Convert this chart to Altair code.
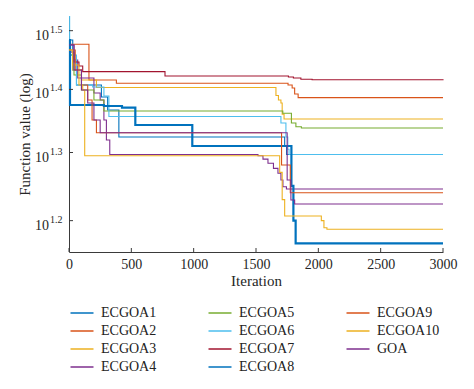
import altair as alt
import pandas as pd

# ---- data (iteration, exponent of function value, i.e. log10 f) ----
series_names = ["ECGOA1", "ECGOA2", "ECGOA3", "ECGOA4", "ECGOA5", "ECGOA6",
                "ECGOA7", "ECGOA8", "ECGOA9", "ECGOA10", "GOA"]

ecgoa1_it = [0, 30, 60, 260, 310, 400, 1730, 1745, 3000]
ecgoa1_val = [1.4837, 1.4323, 1.4073, 1.3876, 1.3666, 1.3239, 1.3100, 1.2970, 1.2970]

ecgoa2_it = [0, 160, 380, 1757, 1790, 1810, 1838, 3000]
ecgoa2_val = [1.4762, 1.4156, 1.4101, 1.4073, 1.4024, 1.3925, 1.3865, 1.3865]

ecgoa3_it = [0, 30, 100, 220, 1660, 1680, 1700, 1710, 1725, 3000]
ecgoa3_val = [1.4578, 1.4323, 1.4156, 1.4032, 1.3900, 1.3827, 1.3778, 1.3600, 1.3522, 1.3522]

ecgoa4_it = [0, 40, 70, 200, 250, 280, 300, 327, 1516, 1556, 1596, 1640, 1676, 1700, 1716, 1744, 3000]
ecgoa4_val = [1.4750, 1.4492, 1.4189, 1.3941, 1.3827, 1.3506, 1.3192, 1.2970, 1.2950, 1.2900,
              1.2836, 1.2760, 1.2686, 1.2587, 1.2488, 1.2454, 1.2454]

ecgoa5_it = [0, 40, 100, 200, 280, 1715, 1784, 1820, 1864, 3000]
ecgoa5_val = [1.4578, 1.4239, 1.3991, 1.3827, 1.3650, 1.3613, 1.3458, 1.3400, 1.3380, 1.3380]

ecgoa6_it = [0, 5, 60, 190, 280, 320, 1700, 1740, 1755, 1765, 3000]
ecgoa6_val = [1.5250, 1.4578, 1.4073, 1.4040, 1.3892, 1.3562, 1.3458, 1.3239, 1.3050, 1.2970, 1.2970]

ecgoa7_it = [0, 40, 80, 110, 770, 1760, 1800, 1860, 1950, 3000]
ecgoa7_val = [1.4629, 1.4458, 1.4391, 1.4295, 1.4223, 1.4205, 1.4189, 1.4168, 1.4160, 1.4151]

ecgoa8_it = [0, 8, 280, 425, 532, 989, 1784, 1800, 1818, 3000]
ecgoa8_val = [1.4837, 1.3746, 1.3730, 1.3703, 1.3427, 1.3100, 1.2500, 1.2000, 1.1685, 1.1685]

ecgoa9_it = [0, 50, 100, 150, 185, 220, 1705, 1775, 3000]
ecgoa9_val = [1.4664, 1.4323, 1.4073, 1.3827, 1.3506, 1.3306, 1.2811, 1.2400, 1.2400]

ecgoa10_it = [0, 30, 80, 110, 126, 1690, 1710, 1730, 2024, 2045, 2069, 3000]
ecgoa10_val = [1.4664, 1.4408, 1.4073, 1.3991, 1.2951, 1.2700, 1.2300, 1.2066, 1.2000, 1.1900,
               1.1879, 1.1879]

goa_it = [0, 40, 100, 150, 200, 250, 1750, 1780, 1810, 3000]
goa_val = [1.4750, 1.4323, 1.3991, 1.3778, 1.3506, 1.3306, 1.2587, 1.2294, 1.2237, 1.2237]

x_ticks = [0, 500, 1000, 1500, 2000, 2500, 3000]
y_ticks = [1.2, 1.3, 1.4, 1.5]

its = [ecgoa1_it, ecgoa2_it, ecgoa3_it, ecgoa4_it, ecgoa5_it, ecgoa6_it,
       ecgoa7_it, ecgoa8_it, ecgoa9_it, ecgoa10_it, goa_it]
vals = [ecgoa1_val, ecgoa2_val, ecgoa3_val, ecgoa4_val, ecgoa5_val, ecgoa6_val,
        ecgoa7_val, ecgoa8_val, ecgoa9_val, ecgoa10_val, goa_val]

rows = []
for name, it, v in zip(series_names, its, vals):
    for a, b in zip(it, v):
        rows.append({"series": name, "iteration": a, "value": b})
df = pd.DataFrame(rows)

# ---- styling ----
palette = ["#0072BD", "#D95319", "#EDB120", "#7E2F8E", "#77AC30", "#4DBEEE",
           "#A2142F", "#0072BD", "#D95319", "#EDB120", "#7E2F8E"]
FONT = "Liberation Serif"
AX = "#3a3a3a"
TXT = "#262626"

xscale = alt.Scale(domain=[0, 3000], nice=False, zero=False)
yscale = alt.Scale(type="log", domain=[1.1566, 1.5261], nice=False, zero=False)
xaxis = alt.Axis(values=x_ticks, format="d", title="Iteration", ticks=False, grid=False,
                 labelPadding=5, labelFlush=False, titleY=21, titleBaseline="top",
                 labelFont=FONT, labelFontSize=14, labelColor=TXT,
                 titleFont=FONT, titleFontSize=15, titleFontWeight="normal", titleColor=TXT,
                 domainColor=AX, domainWidth=1)
yaxis = alt.Axis(values=y_ticks, labels=False, ticks=False, grid=False,
                 title="Function value (log)", titleX=-45, titleBaseline="middle",
                 titleFont=FONT, titleFontSize=15, titleFontWeight="normal", titleColor=TXT,
                 domainColor=AX, domainWidth=1)

xenc = alt.X("iteration:Q", scale=xscale, axis=xaxis)
yenc = alt.Y("value:Q", scale=yscale, axis=yaxis)

lines = alt.Chart(df).mark_line(interpolate="step-after").transform_calculate(
    w="datum.series == 'ECGOA8' ? 2.2 : 1.1"
).encode(
    x=xenc,
    y=yenc,
    color=alt.Color("series:N",
                    scale=alt.Scale(domain=series_names, range=palette),
                    legend=alt.Legend(title=None, orient="none", legendX=5, legendY=289,
                                      columns=3, symbolType="M-1.643,0L1.643,0", symbolSize=196,
                                      symbolStrokeWidth=1.5, labelFont=FONT, labelFontSize=14,
                                      labelColor="#222222", columnPadding=48, rowPadding=3,
                                      labelOffset=11, padding=0)),
    strokeWidth=alt.StrokeWidth("w:Q", scale=None, legend=None),
)

xt = alt.Chart(pd.DataFrame({"iteration": x_ticks})).mark_rule(color=AX, strokeWidth=1).encode(
    x=xenc, y=alt.value(236), y2=alt.value(232))
yt = alt.Chart(pd.DataFrame({"value": y_ticks})).mark_rule(color=AX, strokeWidth=1).encode(
    y=yenc, x=alt.value(0), x2=alt.value(4))

tens = alt.Chart(pd.DataFrame({"value": y_ticks})).mark_text(
    align="right", baseline="alphabetic", font=FONT, fontSize=14, dy=9, color=TXT
).encode(y=yenc, x=alt.value(-20), text=alt.value("10"))
exps = alt.Chart(pd.DataFrame({"value": y_ticks})).mark_text(
    align="left", baseline="alphabetic", font=FONT, fontSize=10, dy=2, color=TXT
).encode(y=yenc, x=alt.value(-19), text=alt.Text("value:Q", format=".1f"))

chart = alt.layer(lines, xt, yt, tens, exps).properties(
    width=374, height=236,
    padding={"left": 61, "top": 8, "right": 20, "bottom": 125},
    autosize=alt.AutoSizeParams(type="none"),
    background="white",
).configure_view(stroke=None)

chart.save("out.html", embed_options={"renderer": "svg", "actions": False})
